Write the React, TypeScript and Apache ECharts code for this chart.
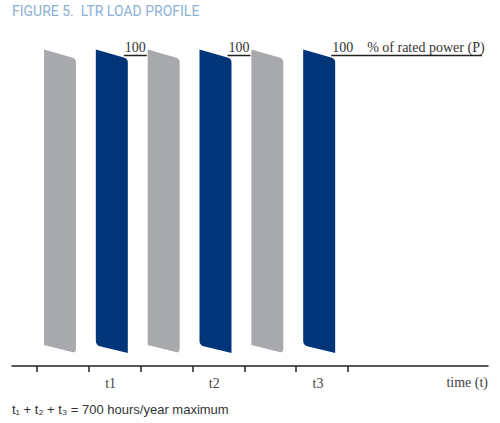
import React, { useEffect, useRef } from 'react';
import * as echarts from 'echarts';

// time intervals on the axis (one tick per interval edge)
const intervalTicks = [0, 1, 2, 3, 4, 5, 6];
// grey bars (rest) and blue bars (load) sit in alternating intervals
const restIntervals = [0, 2, 4];
const restLevels = [100, 100, 100];
const loadIntervals = [1, 3, 5];
const loadLevels = [100, 100, 100];
const periodLabels = ['t1', 't2', 't3'];
const unitLabel = '% of rated power (P)';

const GREY = '#a7a9ac';
const BLUE = '#00357a';
const SERIF = '"Liberation Serif", "DejaVu Serif", serif';

const BAR_OFFSET = 0.135;
const BAR_WIDTH = 0.617;

const barPath = (x0: number, x1: number, yTop: number, yBot: number, isLoad: boolean) => {
  const s = 4.5; // slant of top edge
  const b = 4; // slant of bottom edge
  const r = 4;
  const tl = [x0, yTop - s];
  const tr = [x1, yTop + s];
  const br = [x1, yBot + b];
  const bl = [x0, yBot - b];
  let d = `M${tl[0]},${tl[1]} L${tr[0] - r},${tr[1] - r * 0.28} Q${tr[0]},${tr[1]} ${tr[0]},${tr[1] + r}`;
  if (isLoad) {
    d += ` L${br[0]},${br[1]} L${bl[0] + r},${bl[1] + r * 0.28} Q${bl[0]},${bl[1]} ${bl[0]},${bl[1] - r} Z`;
  } else {
    d += ` L${br[0]},${br[1] - r} Q${br[0]},${br[1]} ${br[0] - r},${br[1] - r * 0.28} L${bl[0]},${bl[1]} Z`;
  }
  return d;
};

const makeRenderItem = (isLoad: boolean) => (params: any, api: any) => {
  const i = api.value(0);
  const v = api.value(1);
  const [x0, yTop] = api.coord([i + BAR_OFFSET, v]);
  const [x1, yBot] = api.coord([i + BAR_OFFSET + BAR_WIDTH, 0]);
  const children: any[] = [
    {
      type: 'path',
      shape: { pathData: barPath(x0, x1, yTop, yBot, isLoad) },
      style: { fill: isLoad ? BLUE : GREY },
    },
  ];
  if (isLoad) {
    const isLast = params.dataIndex === loadIntervals.length - 1;
    const lx = x1 - 4;
    const ly = yTop + 1.5;
    const lineEnd = isLast ? params.coordSys.x + params.coordSys.width - 6 : lx + 23;
    children.push({
      type: 'line',
      shape: { x1: lx, y1: ly, x2: lineEnd, y2: ly },
      style: { stroke: '#222', lineWidth: 1.5 },
    });
    children.push({
      type: 'text',
      x: lx + 1,
      y: ly - 1.5,
      style: { text: String(Math.round(v)), fill: '#333', font: `14px ${SERIF}`, align: 'left', verticalAlign: 'bottom' },
    });
    if (isLast) {
      children.push({
        type: 'text',
        x: lx + 36,
        y: ly - 1.5,
        style: { text: unitLabel, fill: '#333', font: `14px ${SERIF}`, align: 'left', verticalAlign: 'bottom' },
      });
    }
  }
  return { type: 'group', children };
};

const App: React.FC = () => {
  const chartRef = useRef<HTMLDivElement | null>(null);

  useEffect(() => {
    if (!chartRef.current) return;
    const chart = echarts.init(chartRef.current, null, { renderer: 'svg' });

    const option = {
      animation: false,
      grid: { left: 12, right: 12, top: 54, bottom: 57 },
      xAxis: {
        type: 'value',
        min: -0.482,
        max: 8.7,
        splitLine: { show: false },
        axisLine: { show: true, onZero: false, lineStyle: { color: '#222', width: 1.5 } },
        axisTick: {
          show: true,
          length: 6,
          customValues: intervalTicks,
          lineStyle: { color: '#222', width: 1.5 },
        },
        axisLabel: {
          customValues: loadIntervals.map((i) => i + 0.42),
          formatter: (val: number) => periodLabels[loadIntervals.indexOf(Math.floor(val))] ?? '',
          color: '#444',
          fontFamily: SERIF,
          fontSize: 14,
          margin: 10,
        },
        name: 'time (t)',
        nameLocation: 'end',
        nameGap: 0,
        nameTextStyle: {
          color: '#444',
          fontFamily: SERIF,
          fontSize: 14,
          align: 'right',
          verticalAlign: 'top',
          padding: [9, 0, 0, 0],
        },
      },
      yAxis: {
        type: 'value',
        min: -5.76,
        max: 100,
        show: false,
      },
      graphic: [
        {
          type: 'text',
          left: 12,
          top: 4,
          style: {
            text: 'FIGURE 5.  LTR LOAD PROFILE',
            fill: '#8db0d6',
            font: '14px Roboto, "Noto Sans", sans-serif',
          },
        },
        {
          type: 'text',
          left: 12,
          top: 403,
          style: {
            text: 't\u2081 + t\u2082 + t\u2083 = 700 hours/year maximum',
            fill: '#333',
            font: '13px "Liberation Sans", "DejaVu Sans", sans-serif',
          },
        },
      ],
      series: [
        {
          type: 'custom',
          name: 'rest',
          data: restIntervals.map((iv, k) => [iv, restLevels[k]]),
          renderItem: makeRenderItem(false),
          silent: true,
        },
        {
          type: 'custom',
          name: 'load',
          data: loadIntervals.map((iv, k) => [iv, loadLevels[k]]),
          renderItem: makeRenderItem(true),
          silent: true,
        },
      ],
    };

    chart.setOption(option);
    return () => {
      chart.dispose();
    };
  }, []);

  return (
    <div
      ref={chartRef}
      style={{ position: 'absolute', left: 0, top: 0, width: 500, height: 423, background: '#fff' }}
    ></div>
  );
};

export default App;
